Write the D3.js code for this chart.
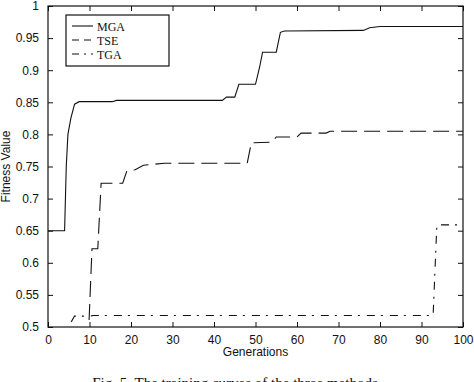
<!DOCTYPE html>
<html>
<head>
<meta charset="utf-8">
<script src="https://cdn.jsdelivr.net/npm/d3@7"></script>
<style>
  body { margin: 0; background: #fff; }
  svg { display: block; }
</style>
</head>
<body>
<div id="chart"></div>
<script>
// data (generation, fitness)
var mgaGen = [0, 4, 4.4, 4.8, 5.5, 6.4, 7.5, 15.5, 16.5, 42, 43, 45, 46, 50, 51, 51.7, 55, 56, 57, 76, 77.5, 80, 100];
var mgaFit = [0.65, 0.65, 0.75, 0.80, 0.825, 0.847, 0.851, 0.851, 0.853, 0.853, 0.858, 0.858, 0.878, 0.878, 0.905, 0.928, 0.928, 0.959, 0.961, 0.962, 0.966, 0.968, 0.968];

var tseGen = [9.9, 10.6, 12, 12.8, 18, 19, 21, 23, 28, 48, 49, 54, 55, 60, 61, 67, 68, 100];
var tseFit = [0.511, 0.622, 0.622, 0.724, 0.724, 0.743, 0.745, 0.752, 0.755, 0.755, 0.787, 0.788, 0.796, 0.796, 0.802, 0.802, 0.805, 0.805];

var tgaGen = [5.6, 6.4, 10, 11, 92.8, 93.7, 100];
var tgaFit = [0.508, 0.517, 0.517, 0.518, 0.518, 0.659, 0.659];

var seriesNames = ["MGA", "TSE", "TGA"];
var xTicks = [0, 10, 20, 30, 40, 50, 60, 70, 80, 90, 100];
var yTicks = [0.5, 0.55, 0.6, 0.65, 0.7, 0.75, 0.8, 0.85, 0.9, 0.95, 1];

var svgWidth = 474;
var svgHeight = 382;

var margin = { top: 6, right: 11, bottom: 55, left: 48 };
var chartWidth = svgWidth - margin.left - margin.right;
var chartHeight = svgHeight - margin.top - margin.bottom;

var svg = d3.select("#chart").append("svg")
      .attr("width", svgWidth)
      .attr("height", svgHeight);

var chartGroup = svg.append("g")
      .attr("transform", `translate(${margin.left}, ${margin.top})`);

var xScale = d3.scaleLinear().domain([0, 100]).range([0, chartWidth]);
var yScale = d3.scaleLinear().domain([0.5, 1]).range([chartHeight, 0]);

var tickFont = "Liberation Sans, Arial, sans-serif";

// axes, ticks pointing inward on all four sides
var xAxis = d3.axisBottom(xScale).tickValues(xTicks).tickSizeInner(-5).tickSizeOuter(0).tickPadding(8).tickFormat(d3.format("d"));
var yAxis = d3.axisLeft(yScale).tickValues(yTicks).tickSizeInner(-5).tickSizeOuter(0).tickPadding(9).tickFormat(d => String(+d.toFixed(2)));
var xTop = d3.axisTop(xScale).tickValues(xTicks).tickSizeInner(-5).tickSizeOuter(0).tickFormat("");
var yRight = d3.axisRight(yScale).tickValues(yTicks).tickSizeInner(-5).tickSizeOuter(0).tickFormat("");

chartGroup.append("g").attr("transform", `translate(0, ${chartHeight})`).call(xAxis);
chartGroup.append("g").call(yAxis);
chartGroup.append("g").call(xTop);
chartGroup.append("g").attr("transform", `translate(${chartWidth}, 0)`).call(yRight);

chartGroup.selectAll(".domain").remove();
chartGroup.selectAll(".tick line").attr("stroke", "#111");
chartGroup.selectAll(".tick text")
  .attr("font-family", tickFont)
  .attr("font-size", "12px")
  .attr("fill", "#111");

// frame
chartGroup.append("rect")
  .attr("width", chartWidth)
  .attr("height", chartHeight)
  .attr("fill", "none")
  .attr("stroke", "#111")
  .attr("stroke-width", 1.2);

// lines
var line = d3.line()
  .x(d => xScale(d[0]))
  .y(d => yScale(d[1]));

var seriesData = [
  { name: "MGA", pts: d3.zip(mgaGen, mgaFit), dash: null, legendDash: null },
  { name: "TSE", pts: d3.zip(tseGen, tseFit), dash: "16,7", legendDash: "7,5" },
  { name: "TGA", pts: d3.zip(tgaGen, tgaFit), dash: "8,6,2,7", legendDash: "7,5,2,5" }
];

chartGroup.selectAll(".series")
  .data(seriesData)
  .enter()
  .append("path")
  .attr("d", d => line(d.pts))
  .attr("fill", "none")
  .attr("stroke", "#111")
  .attr("stroke-width", 1.1)
  .attr("stroke-dasharray", d => d.dash);

// legend
var legend = svg.append("g").attr("transform", "translate(66, 15)");
legend.append("rect")
  .attr("width", 103)
  .attr("height", 51)
  .attr("fill", "#fff")
  .attr("stroke", "#111")
  .attr("stroke-width", 1.2);

var rows = legend.selectAll(".row")
  .data(seriesData)
  .enter()
  .append("g")
  .attr("transform", (d, i) => `translate(0, ${11 + i * 14})`);

rows.append("line")
  .attr("x1", 6).attr("x2", 27)
  .attr("y1", 0).attr("y2", 0)
  .attr("stroke", "#111")
  .attr("stroke-width", 1.1)
  .attr("stroke-dasharray", d => d.legendDash);

rows.append("text")
  .attr("x", 31)
  .attr("y", 4.5)
  .attr("font-family", "Liberation Serif, Times New Roman, serif")
  .attr("font-size", "12px")
  .attr("fill", "#111")
  .text((d, i) => seriesNames[i]);

// axis labels
svg.append("text")
  .attr("x", margin.left + chartWidth / 2)
  .attr("y", 356)
  .attr("text-anchor", "middle")
  .attr("font-family", tickFont)
  .attr("font-size", "12px")
  .attr("fill", "#111")
  .text("Generations");

svg.append("text")
  .attr("transform", "rotate(-90)")
  .attr("x", -(margin.top + chartHeight / 2))
  .attr("y", 10)
  .attr("text-anchor", "middle")
  .attr("font-family", tickFont)
  .attr("font-size", "12px")
  .attr("fill", "#111")
  .text("Fitness Value");

// caption, cut off by the bottom edge
svg.append("text")
  .attr("x", 235)
  .attr("y", 388)
  .attr("text-anchor", "middle")
  .attr("font-family", "Liberation Serif, Times New Roman, serif")
  .attr("font-size", "15px")
  .attr("fill", "#111")
  .text("Fig. 5.  The training curves of the three methods");
</script>
</body>
</html>
